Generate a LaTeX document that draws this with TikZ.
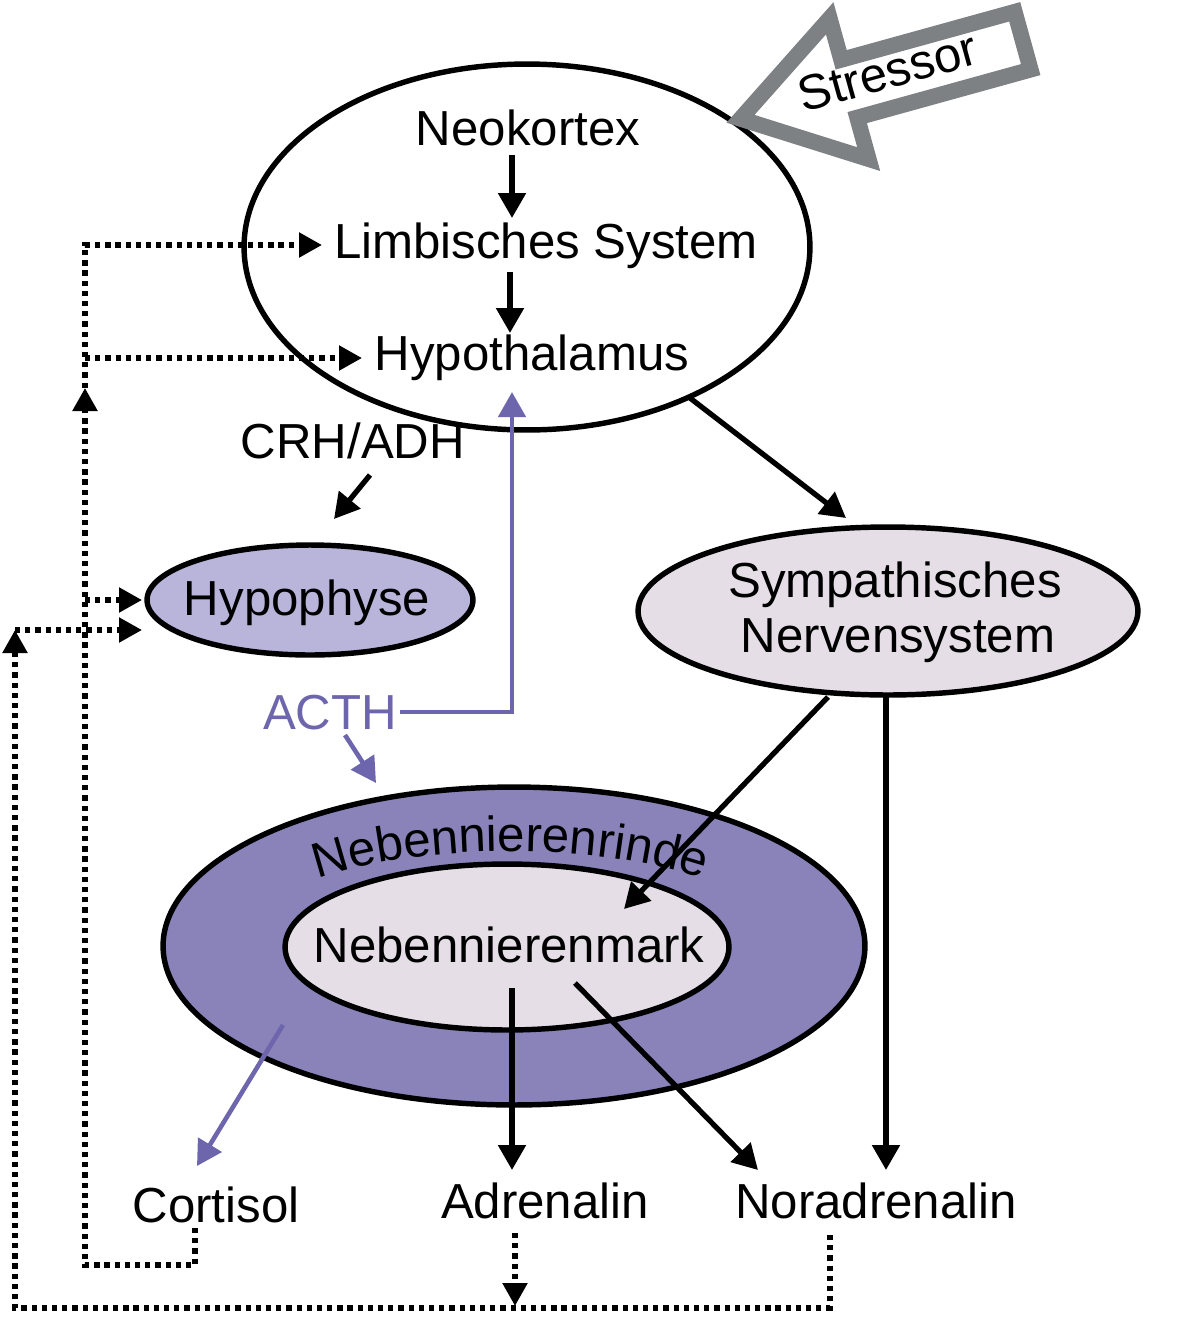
\documentclass[tikz,border=0pt]{standalone}
\usepackage{fontspec}
\setmainfont{Liberation Sans}
\usetikzlibrary{arrows.meta,shapes.geometric,decorations.text}
\definecolor{acth}{HTML}{6D66AD}
\definecolor{hypfill}{HTML}{B9B4DA}
\definecolor{ringfill}{HTML}{8983BA}
\definecolor{lightfill}{HTML}{E5DEE6}
\definecolor{stressgray}{HTML}{7E8184}
\begin{document}
\begin{tikzpicture}[x=0.02cm,y=-0.02cm,
  font=\fontsize{28}{31}\selectfont,
  ell/.style={draw=black, line width=3.1pt, ellipse, inner sep=0pt},
  lbl/.style={inner sep=0pt, anchor=base},
  arr/.style={line width=3pt, -{Triangle[length=0.5cm,width=0.54cm]}},
  parr/.style={arr, draw=acth},
  dotline/.style={line width=3pt, dash pattern=on 3pt off 2.8pt},
  dotarr/.style={dotline, -{Triangle[length=0.46cm,width=0.48cm]}}
]
\useasboundingbox (0,0) rectangle (1195,1333);

% ellipses
\node[ell, minimum width=11.32cm, minimum height=7.32cm] (brain) at (527,247) {};
\node[ell, fill=hypfill, minimum width=6.52cm, minimum height=2.2cm] (hyp) at (310,600) {};
\node[ell, fill=lightfill, minimum width=10cm, minimum height=3.36cm] (sns) at (888,611) {};
\node[ell, fill=ringfill, minimum width=14.04cm, minimum height=6.36cm] (nnr) at (514,946) {};
\node[ell, fill=lightfill, minimum width=8.88cm, minimum height=3.32cm] (nnm) at (507,947) {};

% labels
\node[lbl] (neo) at (528,145) {Neokortex};
\node[lbl] (limb) at (546,258) {Limbisches System};
\node[lbl] (hypo) at (532,370) {Hypothalamus};
\node[lbl] (crh) at (353,458) {CRH/ADH};
\node[lbl] (hyplbl) at (307,615) {Hypophyse};
\node[lbl] (sns1) at (895,597) {Sympathisches};
\node[lbl] (sns2) at (898,652) {Nervensystem};
\node[lbl, text=acth] (acthlbl) at (330,729) {ACTH};
\node[lbl] (nnmlbl) at (509,962) {Nebennierenmark};
\node[lbl] (cort) at (216,1222) {Cortisol};
\node[lbl] (adr) at (545,1218) {Adrenalin};
\node[lbl] (nor) at (876,1218) {Noradrenalin};

% curved label
\path[decorate, decoration={text along path, text align=center,
  text={|\fontsize{28}{31}\selectfont|Nebennierenrinde}}]
  (234,955) .. controls (234,817) and (786,817) .. (786,955);

% stressor arrow
\draw[stressgray, line width=9pt, line join=miter]
  (740.5,118.8) -- (829.7,18.3) -- (841.2,59.8) -- (1014.7,11.8)
  -- (1030.7,69.6) -- (857.2,117.6) -- (868.7,159.1) -- cycle;
\node[lbl, rotate=15.5] (stress) at (892,88) {Stressor};

% black solid arrows
\coordinate (a1) at (512,155); \coordinate (a2) at (512,218);
\draw[arr] (a1) -- (a2);
\coordinate (b1) at (510,272); \coordinate (b2) at (510,333);
\draw[arr] (b1) -- (b2);
\coordinate (c1) at (370,475); \coordinate (c2) at (334,519);
\draw[arr] (c1) -- (c2);
\coordinate (d1) at (690,398); \coordinate (d2) at (846,518);
\draw[arr] (d1) -- (d2);
\coordinate (e1) at (828,697); \coordinate (e2) at (624,909);
\draw[arr] (e1) -- (e2);
\coordinate (f1) at (886,697); \coordinate (f2) at (886,1170);
\draw[arr] (f1) -- (f2);
\coordinate (g1) at (512,988); \coordinate (g2) at (512,1170);
\draw[arr] (g1) -- (g2);
\coordinate (h1) at (575,983); \coordinate (h2) at (758,1170);
\draw[arr] (h1) -- (h2);

% purple arrows
\coordinate (p1) at (400,712); \coordinate (p2) at (512,712); \coordinate (p3) at (512,392);
\draw[parr, line width=2.6pt] (p1) -- (p2) -- (p3);
\coordinate (q1) at (345,735); \coordinate (q2) at (376,783);
\draw[parr, line width=2.6pt] (q1) -- (q2);
\coordinate (r1) at (283,1025); \coordinate (r2) at (197,1166);
\draw[parr, line width=2.6pt] (r1) -- (r2);

% dotted feedback lines
\coordinate (k1) at (195,1228); \coordinate (k2) at (195,1265);
\coordinate (k3) at (85,1265); \coordinate (k4) at (85,388);
\coordinate (k5) at (85,398); \coordinate (k6) at (85,245);
\coordinate (k7) at (322,245);
\coordinate (k8) at (85,358); \coordinate (k9) at (362,358);
\coordinate (k10) at (85,600); \coordinate (k11) at (142,600);
\draw[dotline] (k1) -- (k2) -- (k3) -- (85,398);
\draw[dotarr] (85,400) -- (k4);
\draw[dotarr] (k5) -- (k6) -- (k7);
\draw[dotarr] (k8) -- (k9);
\draw[dotarr] (k10) -- (k11);

\coordinate (m1) at (830,1235); \coordinate (m2) at (830,1308);
\coordinate (m3) at (15,1308); \coordinate (m4) at (15,630);
\coordinate (m5) at (142,630);
\draw[dotline] (m1) -- (m2) -- (m3) -- (15,640);
\draw[dotarr] (15,642) -- (m4);
\draw[dotarr] (m4) -- (m5);
\coordinate (n1) at (515,1233); \coordinate (n2) at (515,1306);
\draw[dotarr] (n1) -- (n2);
\end{tikzpicture}
\end{document}
